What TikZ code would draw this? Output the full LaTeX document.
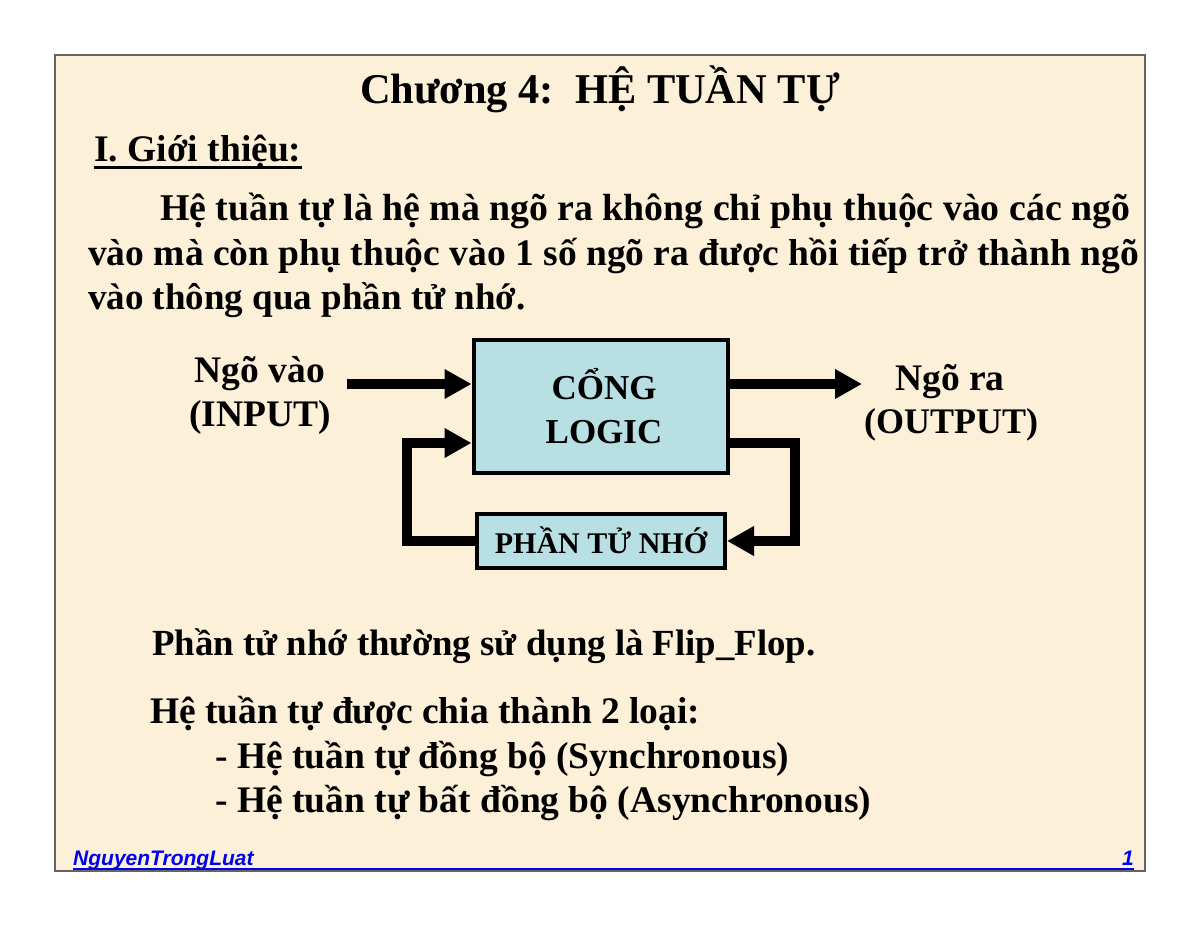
\documentclass[tikz,border=0pt]{standalone}
\usepackage{fontspec}
\setmainfont{Liberation Serif}
\newfontfamily\footfont{Liberation Sans}
\usetikzlibrary{arrows.meta,positioning}
\definecolor{mypaper}{RGB}{252,240,217}
\definecolor{mybox}{RGB}{184,224,228}
\definecolor{myframe}{RGB}{100,100,100}
\definecolor{myblue}{RGB}{0,0,240}
\begin{document}
\begin{tikzpicture}[x=1pt,y=-1pt,
    every node/.style={inner sep=0pt,font=\fontsize{37.5}{44}\selectfont\bfseries},
    txtline/.style={anchor=base west},
    lbl/.style={anchor=base,align=center},
    boxnode/.style={draw=black,fill=mybox,line width=4pt,inner sep=0pt},
    flow/.style={line width=9.5pt,line join=miter,-{Triangle[length=27pt,width=28pt]}},
    footnode/.style={text=myblue,font=\footfont\fontsize{21}{24}\selectfont\bfseries\itshape}
    ]
    \useasboundingbox (0,0) rectangle (1200,927);
    \draw[myframe,fill=mypaper,line width=1.5pt] (55,55) rectangle (1145,871);

    % the texts
    \node (title) [txtline,font=\fontsize{42.4}{48}\selectfont\bfseries] at (360,103) {Chương 4:\ \ HỆ TUẦN TỰ};
    \node (intro) [txtline] at (94,161) {I. Giới thiệu:};
    \draw[line width=3pt] ([yshift=-6pt]intro.base west) -- ([yshift=-6pt]intro.base east);
    \node (p1) [txtline,font=\fontsize{37.8}{44}\selectfont\bfseries] at (160,220) {Hệ tuần tự là hệ mà ngõ ra không chỉ phụ thuộc vào các ngõ};
    \node (p2) [txtline] at (88,265) {vào mà còn phụ thuộc vào 1 số ngõ ra được hồi tiếp trở thành ngõ};
    \node (p3) [txtline,font=\fontsize{37}{44}\selectfont\bfseries] at (88,309) {vào thông qua phần tử nhớ.};
    \node (ff) [txtline,font=\fontsize{36.8}{44}\selectfont\bfseries] at (152,655) {Phần tử nhớ thường sử dụng là Flip\_Flop.};
    \node (kinds) [txtline] at (150,723) {Hệ tuần tự được chia thành 2 loại:};
    \node (k1) [txtline] at (215,768) {- Hệ tuần tự đồng bộ (Synchronous)};
    \node (k2) [txtline] at (215,812) {- Hệ tuần tự bất đồng bộ (Asynchronous)};

    % the blocks
    \node (cong) [boxnode,minimum width=254pt,minimum height=133pt] at (600.5,406.5) {};
    \node (congtxt) [lbl,font=\fontsize{35}{42}\selectfont\bfseries] at (604,399) {CỔNG};
    \node (logictxt) [lbl,font=\fontsize{35}{42}\selectfont\bfseries] at (604,443) {LOGIC};
    \node (nho) [boxnode,minimum width=248pt,minimum height=54pt] at (601,541) {};
    \node (nhotxt) [lbl,font=\fontsize{30}{36}\selectfont\bfseries] at (601,553) {PHẦN TỬ NHỚ};

    \node (inlbl) [lbl] at (260,382) {Ngõ vào};
    \node (inlbl2) [lbl] at (260,426) {(INPUT)};
    \node (outlbl) [lbl] at (950,390) {Ngõ ra};
    \node (outlbl2) [lbl,font=\fontsize{36}{42}\selectfont\bfseries] at (951,433) {(OUTPUT)};

    \coordinate (inp) at (347,384);
    \coordinate (outp) at (862,384);
    \coordinate (fbl) at (407,443);
    \coordinate (fbr) at (795,443);

    % the edges
    \draw[flow] (inp) -- (inp -| cong.west);
    \draw[flow] (outp -| cong.east) -- (outp);
    \draw[flow] (nho.west) -| (fbl) -- (fbl -| cong.west);
    \draw[flow] (fbr -| cong.east) -- (fbr) |- (nho.east);

    % the footer
    \node (auth) [txtline,footnode] at (73,865) {NguyenTrongLuat};
    \node (pg) [anchor=base east,footnode] at (1134,865) {1};
    \draw[myblue,line width=2pt] (auth.base west |- 0,869) -- (pg.base east |- 0,869);
\end{tikzpicture}
\end{document}
